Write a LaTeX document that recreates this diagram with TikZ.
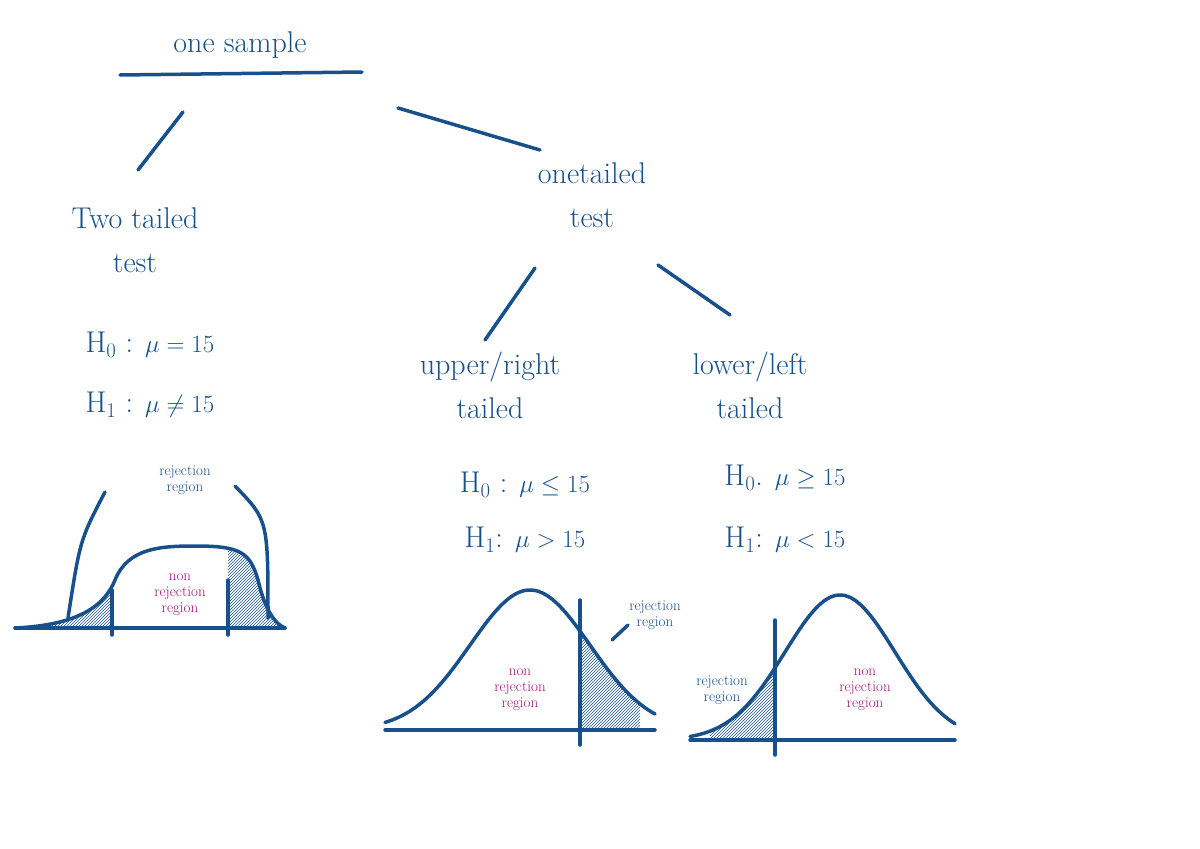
\documentclass[tikz,border=0pt]{standalone}
\usepackage{amssymb}
\usetikzlibrary{positioning,patterns}
\definecolor{ink}{RGB}{24,80,140}
\definecolor{pink}{RGB}{160,20,125}
\tikzset{txt/.style={text=ink,font=\fontsize{30}{44}\selectfont,align=center},
  small/.style={text=ink,font=\fontsize{15}{16}\selectfont,align=center},
  nonrej/.style={text=pink,font=\fontsize{15}{16}\selectfont,align=center},
  pen/.style={ink,line width=3.5pt,line cap=round},
  hatch/.style={pattern=north east lines,pattern color=ink}}
\begin{document}
\begin{tikzpicture}[x=1pt,y=-1pt]
    \useasboundingbox (0,0) rectangle (1200,849);
    \node[txt] (one) at (240,45) {one sample};
    \draw[pen] (120,75) -- (362,72);
    \node[txt] (two) at (135,240) {Two tailed\\ test};
    \node[txt] (h0a) at (150,345) {H$_0$ : $\mu = 15$};
    \node[txt] (h1a) at (150,405) {H$_1$ : $\mu \neq 15$};
    \node[txt] (onet) at (592,195) {onetailed\\ test};
    \node[txt] (up) at (490,385) {upper/right\\ tailed};
    \node[txt] (low) at (750,385) {lower/left\\ tailed};
    \node[txt] (h0b) at (525,485) {H$_0$ : $\mu \le 15$};
    \node[txt] (h1b) at (525,540) {H$_1$: $\mu > 15$};
    \node[txt] (h0c) at (785,478) {H$_0$. $\mu \geq 15$};
    \node[txt] (h1c) at (785,540) {H$_1$: $\mu < 15$};
    \coordinate (c1) at (183,112);
    \coordinate (c2) at (398,108);
    \draw[pen] (c1) -- (138,170);
    \draw[pen] (c2) -- (540,150);
    \draw[pen] (535,268) -- (485,340);
    \draw[pen] (658,265) -- (730,315);

    % two tailed curve
    \def\bellA{(15,628) .. controls (80,625) and (105,605) .. (115,580)
      .. controls (128,548) and (160,546) .. (195,546)
      .. controls (240,546) and (250,552) .. (258,580)
      .. controls (265,610) and (275,624) .. (285,628)}
    \begin{scope}
      \clip \bellA -- cycle;
      \fill[hatch] (40,520) rectangle (112,628);
      \fill[hatch] (228,520) rectangle (280,628);
    \end{scope}
    \draw[pen] \bellA;
    \draw[pen] (15,628) -- (285,628);
    \draw[pen] (112,590) -- (112,635);
    \draw[pen] (228,580) -- (228,635);
    \draw[pen] (105,492) .. controls (80,540) .. (68,618);
    \draw[pen] (235,486) .. controls (268,520) .. (268,618);
    \node[small] (rej1) at (185,480) {rejection\\ region};
    \node[nonrej] (nr1) at (180,595) {non\\ rejection\\ region};

    % upper tailed curve
    \fill[hatch] (580,730) -- plot[domain=580:640,samples=30] (\x,{730-140*exp(-((\x-530)/60)^2/2)}) -- (640,730) -- cycle;
    \draw[pen] plot[domain=385:655,samples=80] (\x,{730-140*exp(-((\x-530)/60)^2/2)});
    \draw[pen] (385,730) -- (655,730);
    \draw[pen] (580,600) -- (580,745);
    \draw[pen] (612,640) -- (628,625);
    \node[small] (rej2) at (655,615) {rejection\\ region};
    \node[nonrej] (nr2) at (520,690) {non\\ rejection\\ region};

    % lower tailed curve
    \fill[hatch] (710,740) -- plot[domain=710:775,samples=30] (\x,{740-145*exp(-((\x-840)/55)^2/2)}) -- (775,740) -- cycle;
    \draw[pen] plot[domain=690:955,samples=80] (\x,{740-145*exp(-((\x-840)/55)^2/2)});
    \draw[pen] (690,740) -- (955,740);
    \draw[pen] (775,620) -- (775,755);
    \node[small] (rej3) at (722,690) {rejection\\ region};
    \node[nonrej] (nr3) at (865,690) {non\\ rejection\\ region};
\end{tikzpicture}
\end{document}
